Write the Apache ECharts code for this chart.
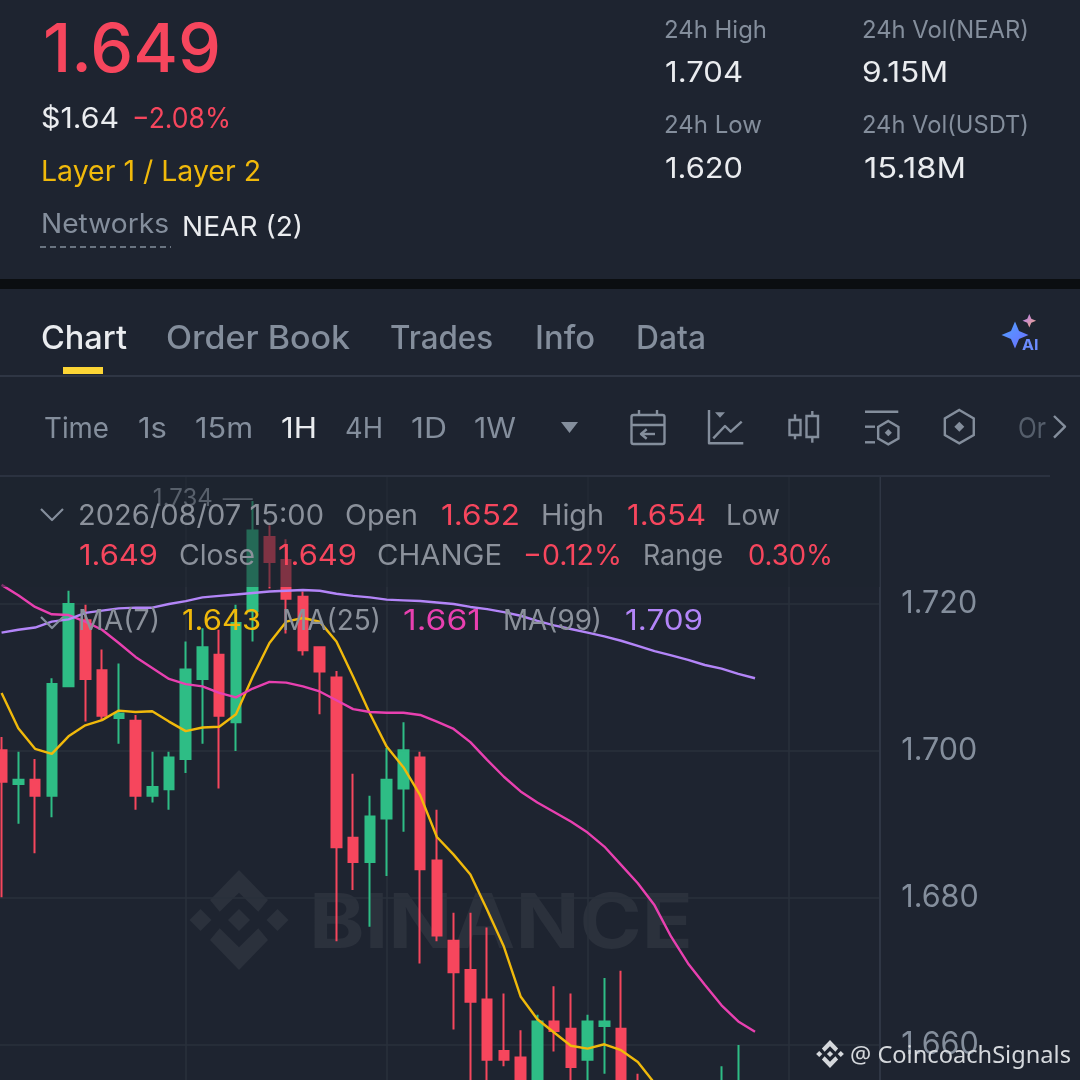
<!DOCTYPE html>
<html>
<head>
<meta charset="utf-8">
<style>html,body{margin:0;padding:0;background:#1e2430;overflow:hidden}#c{width:1080px;height:1080px}</style>
<script src="https://cdn.jsdelivr.net/npm/echarts@6/dist/echarts.min.js"></script>
</head>
<body>
<div id="c"></div>
<script>
// [open, close, low, high], hourly, oldest first; last candle is 2026/08/07 15:00
const candles = [
[1.7001,1.6958,1.6801,1.7019],[1.6955,1.6961,1.6901,1.6999],[1.6961,1.6939,1.6861,1.6989],[1.6939,1.7091,1.6910,1.7099],
[1.7088,1.7200,1.7088,1.7218],[1.7178,1.7098,1.7040,1.7199],[1.7110,1.7048,1.7042,1.7138],[1.7045,1.7051,1.7010,1.7119],
[1.7041,1.6939,1.6920,1.7049],[1.6939,1.6951,1.6930,1.6999],[1.6948,1.6991,1.6920,1.6999],[1.6989,1.7111,1.6970,1.7149],
[1.7098,1.7141,1.7010,1.7167],[1.7131,1.7048,1.6949,1.7165],[1.7039,1.7174,1.7000,1.7199],[1.7190,1.7300,1.7149,1.7340],
[1.7291,1.7257,1.7221,1.7307],[1.7260,1.7207,1.7160,1.7288],[1.7210,1.7137,1.7130,1.7217],[1.7141,1.7108,1.7050,1.7141],
[1.7100,1.6869,1.6741,1.7109],[1.6882,1.6849,1.6811,1.6969],[1.6849,1.6911,1.6761,1.6939],[1.6908,1.6961,1.6830,1.7004],
[1.6949,1.7001,1.6890,1.7039],[1.6991,1.6839,1.6711,1.6999],[1.6851,1.6749,1.6741,1.6920],[1.6742,1.6699,1.6621,1.6780],
[1.6702,1.6659,1.6525,1.6780],[1.6662,1.6580,1.6532,1.6760],[1.6592,1.6580,1.6571,1.6670],[1.6583,1.6539,1.6512,1.6620],
[1.6539,1.6632,1.6512,1.6641],[1.6632,1.6619,1.6591,1.6680],[1.6622,1.6570,1.6539,1.6670],[1.6580,1.6632,1.6539,1.6641],
[1.6626,1.6632,1.6561,1.6691],[1.6622,1.6546,1.6532,1.6701],[1.6546,1.6525,1.6512,1.6561],[1.6520,1.6505,1.6490,1.6535],
[1.6505,1.6490,1.6478,1.6525],[1.6490,1.6500,1.6470,1.6530],[1.6500,1.6512,1.6490,1.6530],[1.6512,1.6525,1.6500,1.6571],
[1.6525,1.6535,1.6505,1.6600],[1.6520,1.6490,1.6490,1.6540]
];
const ma7 = [1.7079,1.7031,1.7003,1.6996,1.7020,1.7035,1.7042,1.7055,1.7053,1.7054,1.7040,1.7027,1.7032,1.7033,1.7050,1.7101,
1.7147,1.7176,1.7181,1.7176,1.7149,1.7101,1.7051,1.7006,1.6978,1.6940,1.6883,1.6859,1.6832,1.6784,1.6734,1.6666,
1.6635,1.6617,1.6599,1.6595,1.6601,1.6593,1.6577,1.6548,1.6518,1.6491,1.6471,1.6450,1.6437,1.6430];
const ma25 = [1.7226,1.7212,1.7196,1.7186,1.7185,1.7176,1.7165,1.7147,1.7128,1.7113,1.7098,1.7091,1.7088,1.7079,1.7073,1.7085,
1.7094,1.7093,1.7088,1.7081,1.7069,1.7057,1.7053,1.7052,1.7052,1.7049,1.7040,1.7030,1.7012,1.6988,1.6965,1.6945,
1.6930,1.6917,1.6904,1.6889,1.6870,1.6845,1.6820,1.6790,1.6747,1.6711,1.6682,1.6654,1.6632,1.6618];
const ma99 = [1.7161,1.7165,1.7168,1.7176,1.7179,1.7188,1.7191,1.7194,1.7195,1.7195,1.7200,1.7204,1.7209,1.7211,1.7213,1.7215,
1.7217,1.7218,1.7219,1.7218,1.7214,1.7211,1.7209,1.7206,1.7205,1.7204,1.7202,1.7200,1.7196,1.7193,1.7189,1.7184,
1.7177,1.7171,1.7166,1.7161,1.7156,1.7150,1.7143,1.7136,1.7130,1.7124,1.7117,1.7112,1.7105,1.7099];
const slotCount = 53;
const categories = Array.from({length: slotCount}, (_, i) => 'H' + i);
const yMin = 1.64, yMax = 1.74, yStep = 0.02;
const highLabelValue = 1.734, highLabelIndex = 15;

const UP='#2EBD85', DOWN='#F6465D', YEL='#F0B90B', PINK='#E840B0', PUR='#B385F8', GREY='#848E9C', WHITE='#EAECEF', BG='#1e2430';
const FONT='Inter, sans-serif';
const NOTO='"Noto Sans", sans-serif';
const g=[];
const mctx=document.createElement('canvas').getContext('2d');
// text placed from its left edge to its right edge
function T(text,x,x2,base,size,fill,o){o=o||{};const fam=o.f||FONT,w=o.w||400;
  mctx.font=w+' '+size+'px '+fam;const sx=(x2-x)/mctx.measureText(text).width;
  g.push({type:'text',x:x,y:base-size*0.30,scaleX:sx,z:o.z||60,silent:true,style:Object.assign({text:text,fontSize:size,fontFamily:fam,fontWeight:w,fill:fill,verticalAlign:'middle',align:'left',opacity:o.op==null?1:o.op},o.s||{})});}
function R(x,y,w,h,fill,z){g.push({type:'rect',z:z||55,silent:true,shape:{x,y,width:w,height:h},style:{fill}});}
function L(x1,y1,x2,y2,col,lw,o){o=o||{};g.push({type:'line',z:o.z||60,silent:true,shape:{x1,y1,x2,y2},style:{stroke:col,lineWidth:lw||2.4,lineDash:o.dash||null}});}
function PL(points,col,lw){g.push({type:'polyline',z:60,silent:true,shape:{points},style:{stroke:col,lineWidth:lw||2.4,fill:null,lineJoin:'round'}});}
function PG(points,fill,z,stroke,lw){g.push({type:'polygon',z:z||60,silent:true,shape:{points},style:{fill:fill||null,stroke:stroke||null,lineWidth:lw||0}});}

// band and section dividers
R(0,279,1080,10,'#0b0e11');
// summary
T('1.649',43,221,71.7,67,DOWN,{w:500});
T('$1.64',41,119,128,28,WHITE);
T('−2.08%',132,231,128,28,DOWN);
T('Layer 1 / Layer 2',41,261,180.5,28,YEL);
T('Networks',41,169,233,27,GREY);
T('NEAR (2)',182,303,236,27,WHITE);
L(40,247,171,247,GREY,1.6,{dash:[6,4]});
T('24h High',664,767,37.7,24,GREY);
T('1.704',665,743,82,28,WHITE);
T('24h Vol(NEAR)',862,1029,37.7,24,GREY);
T('9.15M',862,948,82,28,WHITE);
T('24h Low',664,762,133.3,24,GREY);
T('1.620',665,743,177.7,28,WHITE);
T('24h Vol(USDT)',862,1029,133.3,24,GREY);
T('15.18M',864,966,177.7,28,WHITE);
// tabs
T('Chart',41,127,349,32,WHITE,{w:500});
T('Order Book',166,350,349,32,GREY,{w:500});
T('Trades',390,493,349,32,GREY,{w:500});
T('Info',535,595,349,32,GREY,{w:500});
T('Data',636,706,349,32,GREY,{w:500});
R(63,367,40,7,'#FCD535');
R(0,375,1080,2,'#2f3644');
// AI sparkle
const star=(cx,cy,r,k)=>{const a=[];for(let i=0;i<8;i++){const an=i*Math.PI/4-Math.PI/2;const q=i%2?r*k:r;a.push([cx+q*Math.cos(an),cy+q*Math.sin(an)]);}return a;};
PG(star(1015,335,13.5,0.42),{type:'linear',x:0,y:0,x2:1,y2:1,colorStops:[{offset:0,color:'#4FA3FF'},{offset:1,color:'#6E6BFF'}]});
PG(star(1029.3,320.7,6.8,0.42),{type:'linear',x:0,y:0,x2:1,y2:1,colorStops:[{offset:0,color:'#B07CF8'},{offset:1,color:'#F5A97F'}]});
T('AI',1022,1038.5,350,15,'#6C8CFF',{w:700});
// timeframe row
[['Time',44,109],['1s',138,167],['15m',195,253],['1H',281,317],['4H',345,383],['1D',411,447],['1W',474,516]].forEach(a=>T(a[0],a[1],a[2],438,28,a[0]==='1H'?WHITE:GREY));
PG([[561,422],[578,422],[569.5,433]],GREY);
// calendar icon
g.push({type:'rect',z:60,silent:true,shape:{x:631.5,y:415,width:33,height:29,r:2},style:{fill:null,stroke:GREY,lineWidth:2.4}});
L(631.5,425,664.5,425,GREY);L(639,410,639,415,GREY);L(657,410,657,415,GREY);
L(641,434,655,434,GREY);PL([[646.7,429.3],[641,434],[646.7,438.7]],GREY);
// line-chart icon
PL([[709,410],[709,443.3],[743.3,443.3]],GREY);
PL([[713.3,438.3],[725,426],[730.7,431.7],[741.7,421.7]],GREY);
PG([[715,412.3],[725,412.3],[720,417.7]],GREY);
// candle icon
g.push({type:'rect',z:60,silent:true,shape:{x:789.5,y:420,width:11,height:15},style:{fill:null,stroke:GREY,lineWidth:2.4}});
g.push({type:'rect',z:60,silent:true,shape:{x:806.5,y:416,width:11.5,height:21},style:{fill:null,stroke:GREY,lineWidth:2.4}});
L(795,414.3,795,420,GREY);L(795,435,795,439.3,GREY);L(812.3,411,812.3,416,GREY);L(812.3,437,812.3,442.7,GREY);
// indicator icon
const hex=(cx,cy,r)=>{const a=[];for(let i=0;i<6;i++){const an=i*Math.PI/3-Math.PI/2;a.push([cx+r*Math.cos(an),cy+r*Math.sin(an)]);}return a;};
const dia=(cx,cy,r)=>[[cx,cy-r],[cx+r,cy],[cx,cy+r],[cx-r,cy]];
L(865,411.7,898.3,411.7,GREY);L(865,426.7,875,426.7,GREY);L(865,442.3,875,442.3,GREY);
PG(hex(888.3,432.7,11.7),null,60,GREY,2.4);PG(dia(888.3,432.7,3.6),GREY);
// hexagon icon
PG(hex(959.3,426.7,16.7),null,60,GREY,2.4);PG(dia(959.3,426.7,5),GREY);
T('Or',1018,1046,438,28,GREY,{op:0.55});
PL([[1054,416],[1065,426.7],[1054,437.7]],GREY);
// cover the axis stubs above the chart and draw its top divider
R(0,450,1080,25,BG,38);
R(0,475,1050,2,'#2b3240');

// dim veil behind the readout rows
R(0,477,880,110,'rgba(30,36,48,0.55)',40);
// readout rows
const LG='#8b919b';
function chev(x,y){PL([[x,y],[x+11,y+11],[x+22,y]],GREY,2.2);}
chev(41,509);
[['2026/08/07 15:00',78,324,LG],['Open',345,418,LG],['1.652',441,520,DOWN],['High',541,604,LG],['1.654',627,706,DOWN],['Low',726,780,LG]].forEach(a=>T(a[0],a[1],a[2],525,28,a[3]));
[['1.649',79,158,DOWN],['Close',179,255,LG],['1.649',278,357,DOWN],['CHANGE',377,502,LG],['−0.12%',523,622,DOWN],['Range',643,723,LG],['0.30%',748,833,DOWN]].forEach(a=>T(a[0],a[1],a[2],565,28,a[3]));
chev(41,617);
[['MA(7)',78,160,LG],['1.643',182,261,YEL],['MA(25)',282,381,LG],['1.661',403,481,PINK],['MA(99)',503,602,LG],['1.709',625,703,PUR]].forEach(a=>T(a[0],a[1],a[2],630,28,a[3]));

// BINANCE watermark
const WM='#2b313c';
function logo(cx,cy,s,fill,z){
  const top=[[0,-50],[29,-20],[19.3,-8.3],[0,-27.3],[-19.3,-8.3],[-29,-20]];
  const p=q=>[cx+q[0]*s,cy+q[1]*s];
  PG(top.map(p),fill,z);
  PG(top.map(q=>p([q[0],-q[1]])),fill,z);
  PG(dia(cx,cy,11*s),fill,z);
  PG(dia(cx-38.5*s,cy,11*s),fill,z);
  PG(dia(cx+38.5*s,cy,11*s),fill,z);
}
logo(239,920,1,WM,-1);
T('BINANCE',309,693,947.5,76,WM,{w:700,z:-1});
// credit
logo(830,1054,0.28,'#d5d8dc',70);
T('@ CoincoachSignals',850,1071,1063,24,'#d5d8dc',{z:70,f:NOTO,s:{shadowColor:'rgba(0,0,0,0.8)',shadowBlur:3,shadowOffsetX:1,shadowOffsetY:1}});

const chart=echarts.init(document.getElementById('c'),null,{width:1080,height:1080});
chart.setOption({
  backgroundColor:BG,animation:false,
  grid:{left:-6.81,top:457,width:887.4,height:735,containLabel:false,outerBoundsMode:'none'},
  xAxis:{type:'category',data:categories,boundaryGap:true,
    axisLine:{show:false},axisTick:{show:false},axisLabel:{show:false},
    splitLine:{show:true,alignWithLabel:true,interval:(i)=>(i-11)%12===0,lineStyle:{color:'#2a303b',width:1.5}}},
  yAxis:{type:'value',position:'right',offset:-1.3,min:yMin,max:yMax,interval:yStep,
    axisLine:{show:true,lineStyle:{color:'#2f3644',width:2}},axisTick:{show:false},
    axisLabel:{margin:22,fontSize:30.5,fontFamily:FONT,color:GREY,showMaxLabel:false,padding:[4,0,0,0],formatter:v=>v.toFixed(3)},
    splitLine:{show:true,showMaxLine:false,lineStyle:{color:'#2a303b',width:1.5}}},
  series:[
    {name:'Candles',type:'candlestick',data:candles,barWidth:10,
      itemStyle:{color:UP,color0:DOWN,borderColor:UP,borderColor0:DOWN,borderWidth:2},
      markPoint:{silent:true,symbol:'rect',symbolSize:[30,1.6],symbolOffset:[-15,-2],
        itemStyle:{color:'#a0a8b4'},
        label:{show:true,position:'left',distance:10,fontSize:24,fontFamily:FONT,color:'#a0a8b4',formatter:()=>highLabelValue.toFixed(3)},
        data:[{coord:[highLabelIndex,highLabelValue]}]}},
    {name:'MA(7)',type:'line',data:ma7,showSymbol:false,smooth:false,lineStyle:{color:YEL,width:2.4},z:3},
    {name:'MA(25)',type:'line',data:ma25,showSymbol:false,smooth:false,lineStyle:{color:PINK,width:2.4},z:3},
    {name:'MA(99)',type:'line',data:ma99,showSymbol:false,smooth:false,lineStyle:{color:PUR,width:2.4},z:3}
  ],
  graphic:{elements:g}
});
</script>
</body>
</html>
